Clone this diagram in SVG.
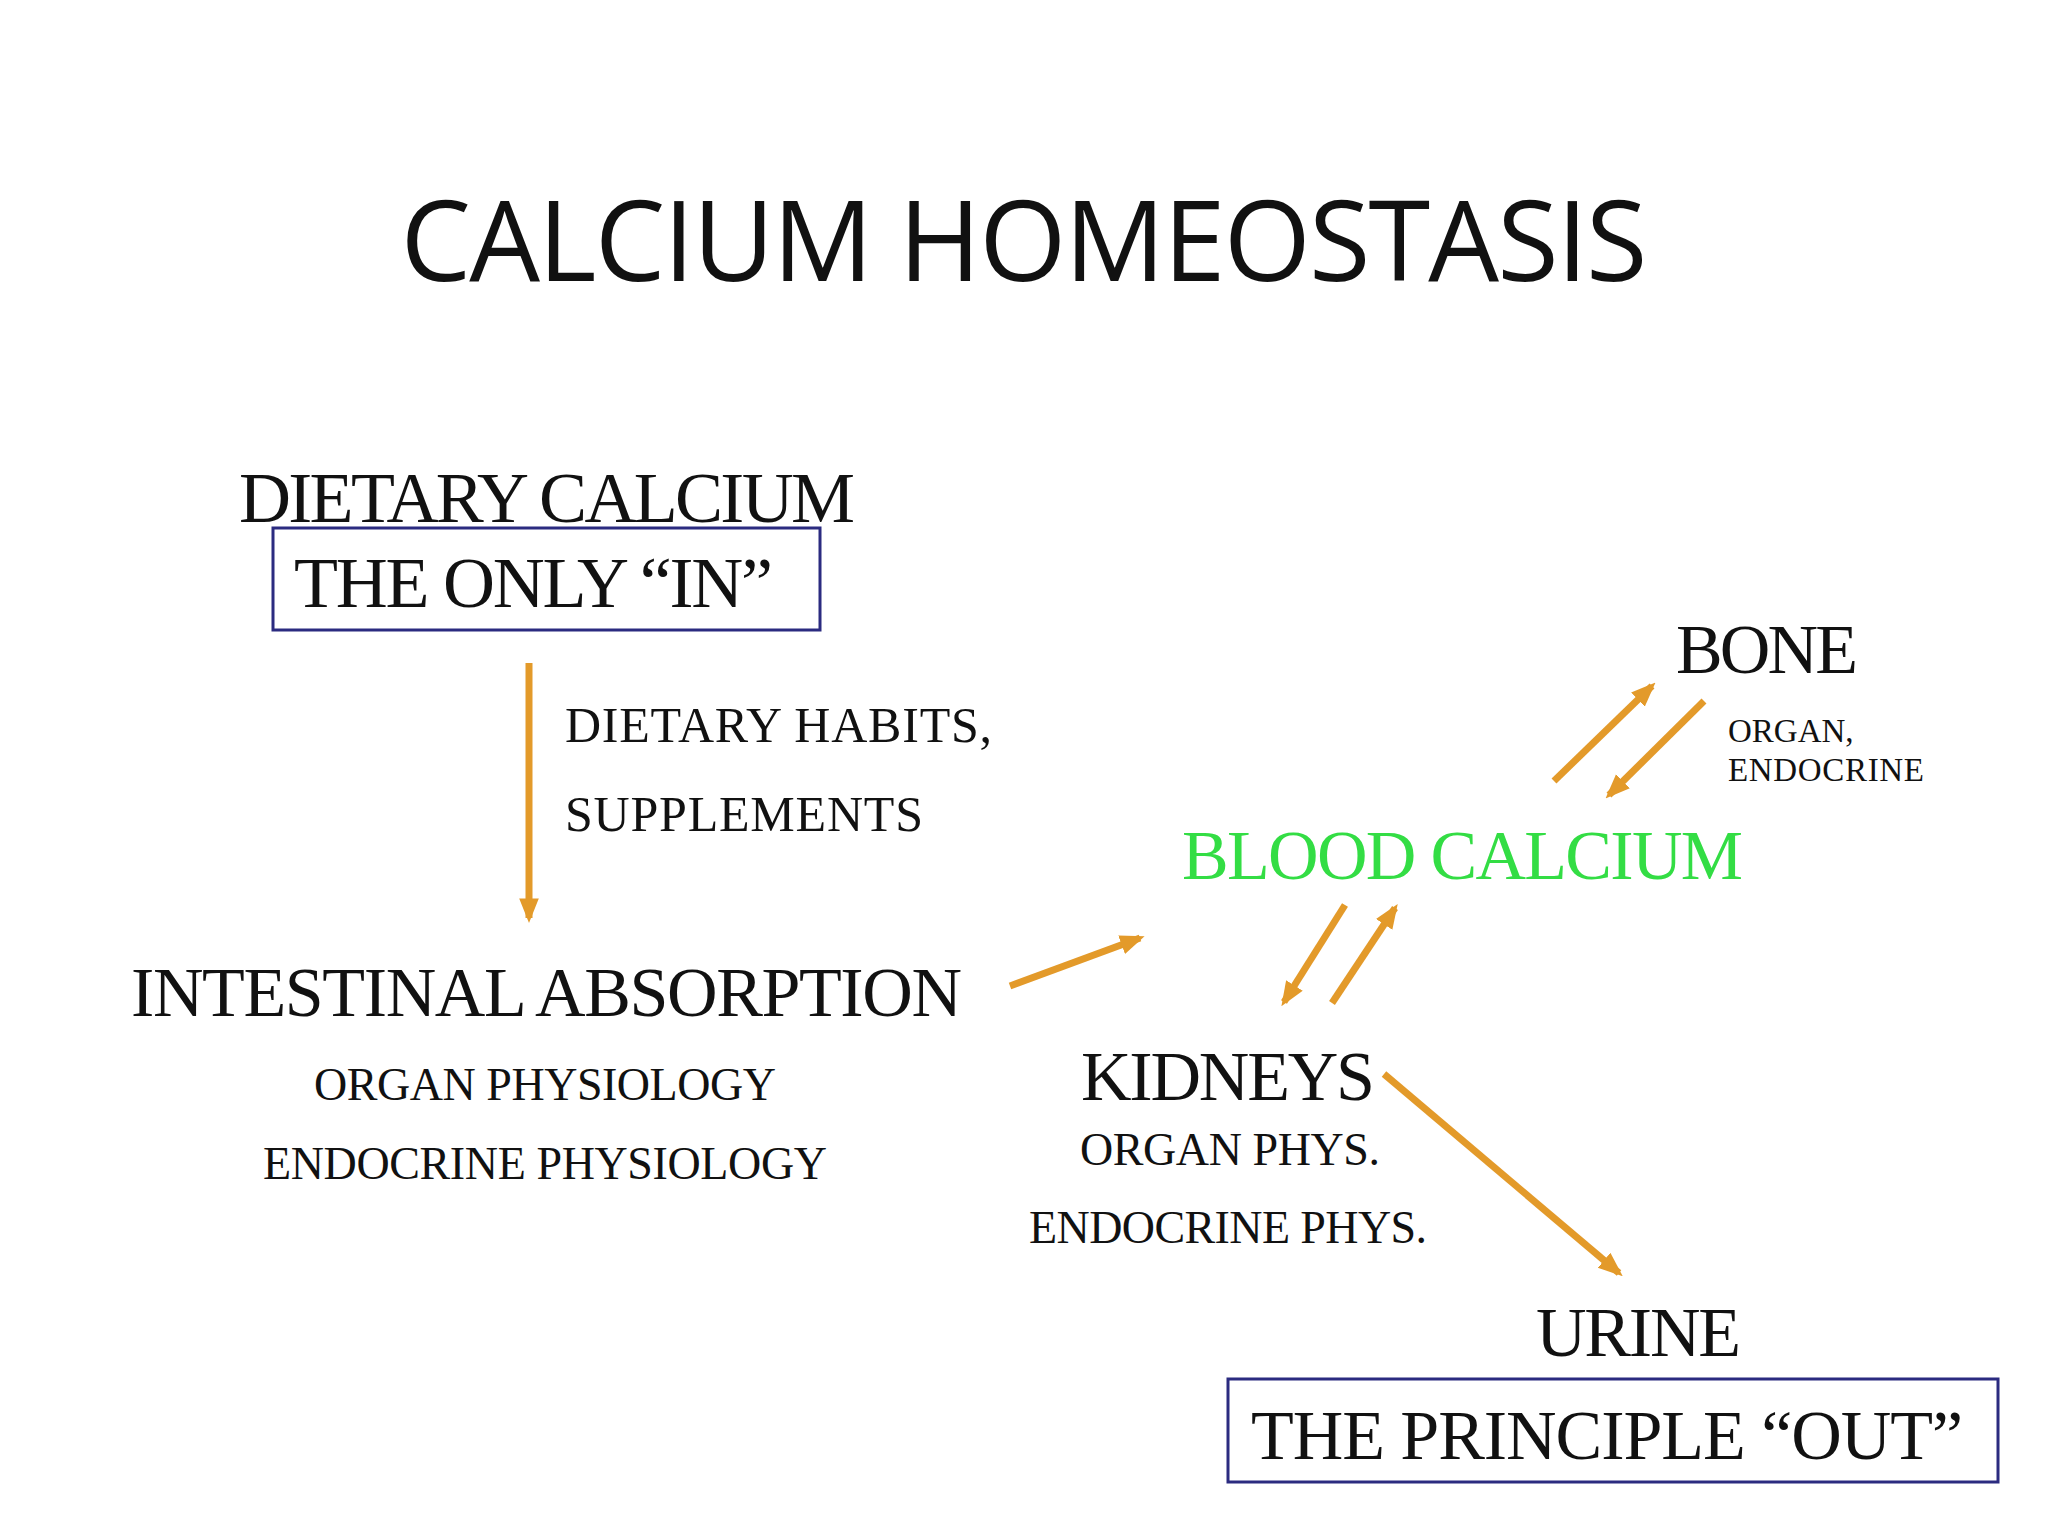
<svg xmlns="http://www.w3.org/2000/svg" width="2048" height="1536" viewBox="0 0 2048 1536">
<style>
.t{font-family:"Liberation Serif","Times New Roman",serif;fill:#111}
.c{stroke:#E39A2A;stroke-width:7;fill:none;marker-end:url(#ah)}
.b{fill:none;stroke:#2B2B80;stroke-width:3}
</style>
<defs><marker id="ah" viewBox="0 0 10 10" refX="8" refY="5" markerWidth="3.5" markerHeight="3.5" orient="auto"><path d="M0,1 L10,5 L0,9 z" fill="#E39A2A"/></marker></defs>
<rect width="2048" height="1536" fill="#fff"/>
<text x="1024" y="281" text-anchor="middle" font-family="'Open Sans',sans-serif" font-size="112" textLength="1247" fill="#111">CALCIUM HOMEOSTASIS</text>
<g id="dietary"><text class="t" x="239" y="522" font-size="72" textLength="616">DIETARY CALCIUM</text>
<rect class="b" x="273" y="528" width="547" height="102"/>
<text class="t" x="294" y="607" font-size="72" textLength="479">THE ONLY “IN”</text></g>
<g id="habits"><text class="t" x="565" y="742" font-size="50" textLength="427">DIETARY HABITS,</text>
<text class="t" x="565" y="831" font-size="50" textLength="358">SUPPLEMENTS</text></g>
<g id="intestinal"><text class="t" x="131" y="1016" font-size="70" textLength="831">INTESTINAL ABSORPTION</text>
<text class="t" x="545" y="1100" font-size="46" text-anchor="middle" textLength="462">ORGAN PHYSIOLOGY</text>
<text class="t" x="545" y="1179" font-size="46" text-anchor="middle" textLength="564">ENDOCRINE PHYSIOLOGY</text></g>
<g id="blood"><text x="1182" y="879" font-family="'Liberation Serif',serif" font-size="70" fill="#33DD44" textLength="561">BLOOD CALCIUM</text></g>
<g id="bone"><text class="t" x="1676" y="673" font-size="70" textLength="182">BONE</text>
<text class="t" x="1728" y="742" font-size="33">ORGAN,</text>
<text class="t" x="1728" y="781" font-size="33" textLength="196">ENDOCRINE</text></g>
<g id="kidneys"><text class="t" x="1081" y="1100" font-size="70" textLength="294">KIDNEYS</text>
<text class="t" x="1080" y="1165" font-size="46" textLength="300">ORGAN PHYS.</text>
<text class="t" x="1029" y="1243" font-size="46" textLength="398">ENDOCRINE PHYS.</text></g>
<g id="urine"><text class="t" x="1536" y="1356" font-size="70" textLength="205">URINE</text>
<rect class="b" x="1228" y="1379" width="770" height="103"/>
<text class="t" x="1251" y="1459" font-size="70" textLength="712">THE PRINCIPLE “OUT”</text></g>
<g id="connectors">
<line class="c" x1="529" y1="663" x2="529" y2="918"/>
<line class="c" x1="1010" y1="986" x2="1140" y2="938"/>
<line class="c" x1="1554" y1="781" x2="1652" y2="686"/>
<line class="c" x1="1704" y1="701" x2="1609" y2="795"/>
<line class="c" x1="1345" y1="905" x2="1284" y2="1002"/>
<line class="c" x1="1332" y1="1003" x2="1395" y2="908"/>
<line class="c" x1="1384" y1="1074" x2="1619" y2="1273"/>
</g>
</svg>
